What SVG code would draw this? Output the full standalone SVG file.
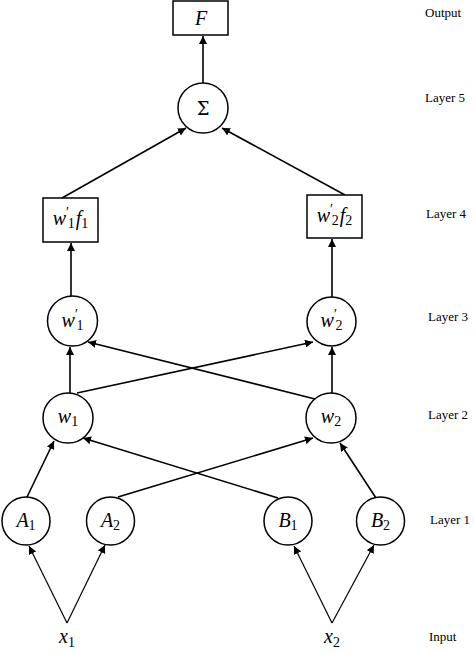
<svg xmlns="http://www.w3.org/2000/svg" width="474" height="653" viewBox="0 0 474 653">
<style>
.nd{fill:#fff;stroke:#000;stroke-width:1.5}
.m{font-family:"Liberation Serif",serif;font-style:italic;font-size:20px;fill:#000}
.s{font-style:normal;font-size:14px}
.p{font-style:normal;font-size:14px}
.lb{font-family:"Liberation Serif",serif;font-size:13px;fill:#000}
.c{stroke:#000;stroke-width:1.6;fill:none;marker-end:url(#ah)}
.ci{stroke:#000;stroke-width:1.2;fill:none;marker-end:url(#ah)}
</style>
<defs>
<marker id="ah" markerUnits="userSpaceOnUse" markerWidth="9" markerHeight="8" refX="8" refY="4" orient="auto">
<path d="M0,0 L8,4 L0,8 z" fill="#000"/>
</marker>
</defs>
<rect width="474" height="653" fill="#fff"/>
<g id="connectors">
<line class="c" x1="203" y1="83" x2="203" y2="36"/>
<line class="c" x1="62" y1="198" x2="186" y2="128"/>
<line class="c" x1="345" y1="195" x2="222" y2="128"/>
<line class="c" x1="71" y1="296" x2="71" y2="243"/>
<line class="c" x1="332" y1="297" x2="332" y2="239"/>
<line class="c" x1="70" y1="393" x2="70" y2="347"/>
<line class="c" x1="332" y1="393" x2="332" y2="347"/>
<line class="c" x1="77" y1="393" x2="313" y2="342"/>
<line class="c" x1="315" y1="399" x2="88" y2="342"/>
<line class="c" x1="27" y1="497" x2="54" y2="441"/>
<line class="c" x1="118" y1="497" x2="313" y2="438"/>
<line class="c" x1="278" y1="498" x2="83" y2="438"/>
<line class="c" x1="376" y1="498" x2="340" y2="443"/>
<line class="ci" x1="67" y1="623" x2="29" y2="546"/>
<line class="ci" x1="67" y1="623" x2="105" y2="545"/>
<line class="ci" x1="332" y1="623" x2="294" y2="546"/>
<line class="ci" x1="332" y1="623" x2="374" y2="545"/>
</g>
<g id="F"><rect class="nd" x="173" y="1" width="55" height="34"/><text class="m" x="201" y="25" text-anchor="middle">F</text></g>
<g id="sum"><circle class="nd" cx="203" cy="108" r="25"/><text x="203" y="115" text-anchor="middle" font-family="'DejaVu Serif',serif" font-size="18">Σ</text></g>
<g id="wf1"><rect class="nd" x="43" y="198" width="55" height="44"/><text class="m" x="70.5" y="225" text-anchor="middle">w<tspan class="p" dy="-8">′</tspan><tspan class="s" dx="-1.5" dy="11">1</tspan><tspan dx="1" dy="-3">f</tspan><tspan class="s" dy="3">1</tspan></text></g>
<g id="wf2"><rect class="nd" x="307" y="195" width="55" height="43"/><text class="m" x="334.5" y="222" text-anchor="middle">w<tspan class="p" dy="-8">′</tspan><tspan class="s" dx="-1.5" dy="11">2</tspan><tspan dx="1" dy="-3">f</tspan><tspan class="s" dy="3">2</tspan></text></g>
<g id="w1p"><circle class="nd" cx="72.5" cy="321" r="25"/><text class="m" x="72.5" y="327" text-anchor="middle">w<tspan class="p" dy="-8">′</tspan><tspan class="s" dx="-1.5" dy="11">1</tspan></text></g>
<g id="w2p"><circle class="nd" cx="331.5" cy="321.5" r="24.5"/><text class="m" x="331.5" y="327" text-anchor="middle">w<tspan class="p" dy="-8">′</tspan><tspan class="s" dx="-1.5" dy="11">2</tspan></text></g>
<g id="w1"><circle class="nd" cx="68" cy="418" r="25"/><text class="m" x="68" y="423" text-anchor="middle">w<tspan class="s" dy="3">1</tspan></text></g>
<g id="w2"><circle class="nd" cx="331" cy="418" r="25"/><text class="m" x="331" y="423" text-anchor="middle">w<tspan class="s" dy="3">2</tspan></text></g>
<g id="A1"><circle class="nd" cx="26" cy="521" r="24"/><text class="m" x="26" y="527" text-anchor="middle">A<tspan class="s" dy="3">1</tspan></text></g>
<g id="A2"><circle class="nd" cx="110.5" cy="521" r="24"/><text class="m" x="110.5" y="527" text-anchor="middle">A<tspan class="s" dy="3">2</tspan></text></g>
<g id="B1"><circle class="nd" cx="288" cy="521" r="24"/><text class="m" x="288" y="527" text-anchor="middle">B<tspan class="s" dy="3">1</tspan></text></g>
<g id="B2"><circle class="nd" cx="380.5" cy="521" r="24"/><text class="m" x="380.5" y="527" text-anchor="middle">B<tspan class="s" dy="3">2</tspan></text></g>
<g id="x1"><text class="m" x="67" y="643" text-anchor="middle">x<tspan class="s" dy="4">1</tspan></text></g>
<g id="x2"><text class="m" x="332" y="643" text-anchor="middle">x<tspan class="s" dy="4">2</tspan></text></g>
<g id="labels">
<text class="lb" x="425" y="17">Output</text>
<text class="lb" x="425" y="102">Layer 5</text>
<text class="lb" x="426" y="218">Layer 4</text>
<text class="lb" x="428" y="321">Layer 3</text>
<text class="lb" x="428" y="419">Layer 2</text>
<text class="lb" x="430" y="524">Layer 1</text>
<text class="lb" x="429" y="641">Input</text>
</g>
</svg>
